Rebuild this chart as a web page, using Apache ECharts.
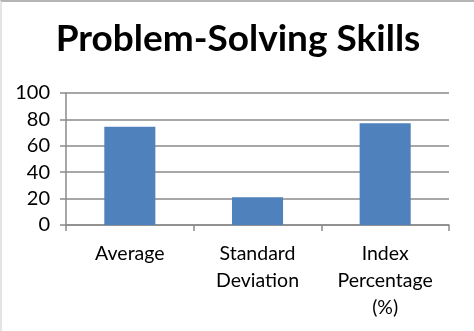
<!DOCTYPE html>
<html>
<head>
<meta charset="utf-8">
<script src="https://cdn.jsdelivr.net/npm/echarts@6/dist/echarts.min.js"></script>
<style>
  html, body { margin: 0; padding: 0; background: #fff; }
  #chart { width: 472px; height: 329px; border-top: 2px solid #b4b4b4; border-left: 2px solid #e4e4e4; }
</style>
</head>
<body>
<div id="chart"></div>
<script>
// chart data
var categories = ['Average', 'Standard\nDeviation', 'Index\nPercentage\n(%)'];
var values = [74.5, 21, 77];
var yTicks = [0, 20, 40, 60, 80, 100];

var chart = echarts.init(document.getElementById('chart'));
var option = {
  title: {
    text: 'Problem-Solving Skills',
    left: 'center',
    top: 14,
    textStyle: {
      fontFamily: 'Lato',
      fontWeight: 'bold',
      fontSize: 37,
      color: '#000'
    }
  },
  grid: {
    left: 64,
    right: 25,
    top: 91,
    bottom: 106
  },
  xAxis: {
    type: 'category',
    data: categories,
    axisLine: { lineStyle: { color: '#8a8a8a', width: 1.5 } },
    axisTick: { show: true, length: 6, lineStyle: { color: '#8a8a8a', width: 1.5 } },
    axisLabel: {
      color: '#000',
      fontFamily: 'Lato',
      fontSize: 19.5,
      lineHeight: 27,
      margin: 15,
      interval: 0
    }
  },
  yAxis: {
    type: 'value',
    min: yTicks[0],
    max: yTicks[yTicks.length - 1],
    interval: 20,
    axisLine: { show: true, lineStyle: { color: '#8a8a8a', width: 1.5 } },
    axisTick: { show: true, length: 6, lineStyle: { color: '#8a8a8a', width: 1.5 } },
    splitLine: { lineStyle: { color: '#8a8a8a', width: 1.5 } },
    axisLabel: {
      color: '#000',
      fontFamily: 'Lato',
      fontSize: 20,
      margin: 16
    }
  },
  series: [{
    type: 'bar',
    data: values,
    barWidth: '40%',
    itemStyle: { color: '#4f81bd' }
  }]
};
chart.setOption(option);
</script>
</body>
</html>
